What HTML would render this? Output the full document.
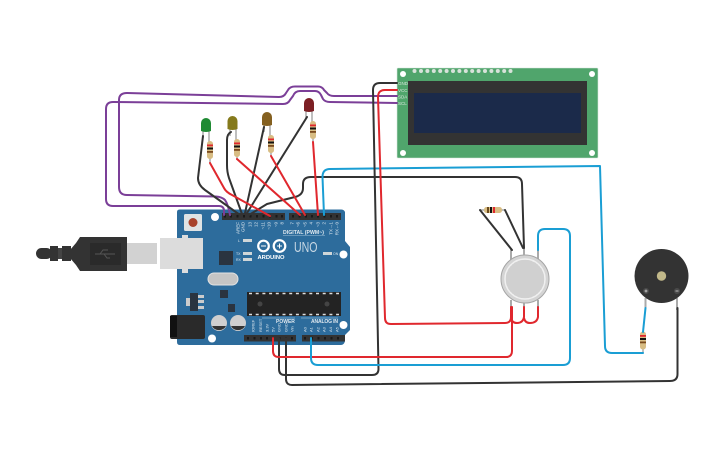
<!DOCTYPE html>
<html><head><meta charset="utf-8"><style>
html,body{margin:0;padding:0;background:#fff;width:725px;height:453px;overflow:hidden}
svg{display:block}
text{font-family:"Liberation Sans",sans-serif}
.w{fill:none;stroke-width:2;stroke-linecap:round;stroke-linejoin:round}
.k{stroke:#333}.r{stroke:#e0282e}.b{stroke:#1a9ed4}.p{stroke:#7b3f98}
.l{fill:none;stroke:#aaa;stroke-width:1.5}
.pl{fill:#dfe8ef;font-size:4.5px;text-anchor:end}
.pb{fill:#dfe8ef;font-size:4px}
</style></head><body>
<svg width="725" height="453" viewBox="0 0 725 453" xmlns="http://www.w3.org/2000/svg">
<defs>
<g id="rv"><rect x="-3" y="-9" width="6" height="18" rx="2.800" fill="#d8bd84"/><rect x="-3" y="-5.500" width="6" height="1.800" fill="#e0282e"/><rect x="-3" y="-2.500" width="6" height="2" fill="#111"/><rect x="-3" y="1" width="6" height="1.800" fill="#7a4a1e"/></g>
<pattern id="mesh" width="2" height="2" patternUnits="userSpaceOnUse"><rect width="2" height="2" fill="#d6d6d6"/><circle cx="1" cy="1" r=".5" fill="#b4b4b4"/></pattern>
</defs>
<!-- LCD -->
<rect x="397" y="68" width="201" height="90" rx="1" fill="#50a56c" stroke="#d5e6da" stroke-width=".6"/>
<rect x="408" y="81" width="179" height="64" fill="#333"/>
<rect x="414" y="93" width="167" height="40" fill="#1b2a4a"/>
<g fill="#fff"><circle cx="403" cy="74" r="3"/><circle cx="592" cy="74" r="3"/><circle cx="403" cy="153" r="3"/><circle cx="592" cy="153" r="3"/></g>
<g fill="#d8e2da"><circle cx="414.5" cy="71" r="2"/><circle cx="421" cy="71" r="2"/><circle cx="427.4" cy="71" r="2"/><circle cx="433.8" cy="71" r="2"/><circle cx="440.2" cy="71" r="2"/><circle cx="446.6" cy="71" r="2"/><circle cx="453" cy="71" r="2"/><circle cx="459.4" cy="71" r="2"/><circle cx="465.8" cy="71" r="2"/><circle cx="472.2" cy="71" r="2"/><circle cx="478.6" cy="71" r="2"/><circle cx="485" cy="71" r="2"/><circle cx="491.4" cy="71" r="2"/><circle cx="497.8" cy="71" r="2"/><circle cx="504.2" cy="71" r="2"/><circle cx="510.5" cy="71" r="2"/></g>
<g fill="#d8e6dc" font-size="4.500"><text x="398" y="85">GND</text><text x="398" y="92">VCC</text><text x="398" y="98.500">SDA</text><text x="398" y="105">SCL</text></g>
<!-- USB cable -->
<rect x="127" y="243" width="30" height="21" fill="#d2d2d2"/>
<rect x="36" y="248" width="16" height="11" rx="5.500" fill="#333"/>
<rect x="50" y="246" width="8" height="15" fill="#333"/><rect x="58" y="248" width="4" height="11" fill="#444"/><rect x="62" y="246" width="9" height="15" fill="#333"/>
<path d="M70 250L76 243L80 237H127V271H80L76 265L70 258Z" fill="#333"/>
<rect x="90" y="243" width="31" height="22" fill="#2a2a2a"/>
<path d="M95 254H115M100 254L103 250H108M104 254L107 258H110" stroke="#555" fill="none"/>
<!-- Arduino board -->
<path d="M180 209.500H341Q344 209.500 345 212L345 241L350 247V330L345 335V341Q344 345 341 345H180Q177 345 177 342V212Q177 209.500 180 209.500Z" fill="#2d6c9c"/>
<rect x="182" y="235" width="6" height="4" fill="#ddd"/><rect x="182" y="269" width="6" height="4" fill="#ddd"/>
<rect x="160" y="238" width="43" height="31" fill="#dcdcdc"/>
<rect x="184" y="214" width="18" height="17" rx="1.500" fill="#dfe3e4"/><circle cx="193" cy="222.500" r="4.500" fill="#a8432c"/>
<g fill="#fff"><circle cx="215" cy="217" r="4"/><circle cx="343.500" cy="254.500" r="4"/><circle cx="343.500" cy="325" r="4"/><circle cx="212" cy="338.500" r="4"/></g>
<rect x="222" y="213" width="63" height="7" fill="#333"/><rect x="289" y="213" width="52" height="7" fill="#333"/>
<rect x="244" y="335" width="52" height="6.500" fill="#333"/><rect x="302" y="335" width="43" height="6.500" fill="#333"/>
<g fill="#1a1a1a"><rect x="224" y="215" width="2" height="2.500"/><rect x="230" y="215" width="2" height="2.500"/><rect x="236.500" y="215" width="2" height="2.500"/><rect x="243" y="215" width="2" height="2.500"/><rect x="249.500" y="215" width="2" height="2.500"/><rect x="256" y="215" width="2" height="2.500"/><rect x="262.500" y="215" width="2" height="2.500"/><rect x="269" y="215" width="2" height="2.500"/><rect x="275.500" y="215" width="2" height="2.500"/><rect x="281" y="215" width="2" height="2.500"/><rect x="292" y="215" width="2" height="2.500"/><rect x="298.500" y="215" width="2" height="2.500"/><rect x="305" y="215" width="2" height="2.500"/><rect x="311" y="215" width="2" height="2.500"/><rect x="317" y="215" width="2" height="2.500"/><rect x="323.500" y="215" width="2" height="2.500"/><rect x="330" y="215" width="2" height="2.500"/><rect x="336" y="215" width="2" height="2.500"/>
<rect x="247" y="337" width="2" height="2.500"/><rect x="253.500" y="337" width="2" height="2.500"/><rect x="260" y="337" width="2" height="2.500"/><rect x="266" y="337" width="2" height="2.500"/><rect x="272" y="337" width="2" height="2.500"/><rect x="278.500" y="337" width="2" height="2.500"/><rect x="285" y="337" width="2" height="2.500"/><rect x="291" y="337" width="2" height="2.500"/><rect x="304" y="337" width="2" height="2.500"/><rect x="311" y="337" width="2" height="2.500"/><rect x="317.500" y="337" width="2" height="2.500"/><rect x="324" y="337" width="2" height="2.500"/><rect x="330.500" y="337" width="2" height="2.500"/><rect x="337" y="337" width="2" height="2.500"/></g>
<g class="pl"><text transform="translate(239.500,222) rotate(-90)">AREF</text><text transform="translate(244.500,222) rotate(-90)">GND</text><text transform="translate(251.500,222) rotate(-90)">13</text><text transform="translate(257.500,222) rotate(-90)">12</text><text transform="translate(264.500,222) rotate(-90)">~11</text><text transform="translate(270.500,222) rotate(-90)">~10</text><text transform="translate(277.500,222) rotate(-90)">~9</text><text transform="translate(283.500,222) rotate(-90)">8</text><text transform="translate(293.500,222) rotate(-90)">7</text><text transform="translate(299.500,222) rotate(-90)">~6</text><text transform="translate(306.500,222) rotate(-90)">~5</text><text transform="translate(312.500,222) rotate(-90)">4</text><text transform="translate(319.500,222) rotate(-90)">~3</text><text transform="translate(325.500,222) rotate(-90)">2</text><text transform="translate(332.500,222) rotate(-90)">TX→1</text><text transform="translate(338.500,222) rotate(-90)">RX←0</text></g>
<g class="pb"><text transform="translate(254.500,332) rotate(-90)">IOREF</text><text transform="translate(262,332) rotate(-90)">RESET</text><text transform="translate(268.500,332) rotate(-90)">3.3V</text><text transform="translate(274.500,332) rotate(-90)">5V</text><text transform="translate(280.500,332) rotate(-90)">GND</text><text transform="translate(287.500,332) rotate(-90)">GND</text><text transform="translate(293.500,332) rotate(-90)">Vin</text><text transform="translate(306.500,332) rotate(-90)">A0</text><text transform="translate(312.500,332) rotate(-90)">A1</text><text transform="translate(319.500,332) rotate(-90)">A2</text><text transform="translate(325.500,332) rotate(-90)">A3</text><text transform="translate(332,332) rotate(-90)">A4</text><text transform="translate(338.500,332) rotate(-90)">A5</text></g>
<text x="283" y="234" font-size="5.200" font-weight="bold" fill="#dfe8ef" textLength="41">DIGITAL (PWM~)</text>
<path d="M283 235.500H325" stroke="#9fc0d8" stroke-width=".5" fill="none"/>
<text x="276" y="323" font-size="5" font-weight="bold" fill="#dfe8ef">POWER</text>
<text x="311" y="323" font-size="5" font-weight="bold" fill="#dfe8ef" textLength="27">ANALOG IN</text>
<path d="M262 318H295M301 318H338" stroke="#bcd3e4" stroke-width=".6"/>
<circle cx="263.500" cy="246" r="5.300" fill="none" stroke="#fff" stroke-width="2.200"/><circle cx="279.500" cy="246" r="5.800" fill="none" stroke="#fff" stroke-width="2.200"/>
<path d="M261 246H266M277 246H282M279.500 243.500V248.500" stroke="#fff" stroke-width="1"/>
<text x="257.500" y="259" font-size="5.800" font-weight="bold" fill="#fff">ARDUINO</text>
<text x="294" y="252" font-size="15" fill="#c9d8e4" textLength="23.500" lengthAdjust="spacingAndGlyphs">UNO</text>
<rect x="243" y="239" width="9" height="3" fill="#cfd6d8"/><rect x="243" y="252" width="9" height="3" fill="#cfd6d8"/><rect x="243" y="258" width="9" height="3" fill="#cfd6d8"/>
<rect x="323" y="252" width="9" height="3" fill="#cfd6d8"/>
<g fill="#dfe8ef" font-size="3.500"><text x="238" y="242">L</text><text x="236" y="255">TX</text><text x="236" y="261">RX</text><text x="333" y="255">ON</text></g>
<rect x="219" y="251" width="14" height="14" fill="#2a3440"/>
<rect x="208" y="273" width="30" height="12" rx="6" fill="#c5c5c5" stroke="#e2e2e2"/>
<rect x="220" y="290" width="8" height="8" fill="#2a3440"/>
<rect x="190" y="293" width="8" height="18" fill="#2a3440"/><rect x="186" y="298" width="4" height="8" fill="#ccc"/><rect x="198" y="295" width="6" height="3" fill="#ccc"/><rect x="198" y="300" width="6" height="3" fill="#ccc"/><rect x="198" y="306" width="6" height="3" fill="#ccc"/>
<rect x="228" y="304" width="7" height="8" fill="#2a3440"/>
<rect x="247" y="292" width="94" height="24" fill="#232323"/>
<path d="M249 293.500H339M249 314.500H339" stroke="#ddd" stroke-width="1.500" stroke-dasharray="3 3.700"/>
<circle cx="260" cy="304" r="2.500" fill="#444"/><circle cx="327" cy="304" r="2.500" fill="#444"/>
<circle cx="219" cy="323" r="8" fill="#cfcfcf"/><path d="M212 326A8 8 0 0 0 226 326Z" fill="#333"/>
<circle cx="238" cy="323" r="8" fill="#cfcfcf"/><path d="M231 326A8 8 0 0 0 245 326Z" fill="#333"/>
<rect x="170" y="315" width="35" height="24" rx="2" fill="#2a2a2a"/><rect x="170" y="316" width="7" height="21" fill="#111"/>
<!-- LEDs -->
<g class="l"><path d="M203 131V138M209 131V142"/><path d="M230 129V136M236 129V140"/><path d="M264 125V132M270 125V136"/><path d="M306 111V118M312 111V122"/><path d="M210 158V163M237 156V160M271 152V156M313 138V142"/></g>
<path d="M201 131V123A5 5 0 0 1 211 123V131Q206 133 201 131Z" fill="#1f8a33"/>
<path d="M227.500 129V121A5 5 0 0 1 237.500 121V129Q232.500 131 227.500 129Z" fill="#857a1c"/>
<path d="M262 125V117A5 5 0 0 1 272 117V125Q267 127 262 125Z" fill="#846020"/>
<path d="M304 111V103A5 5 0 0 1 314 103V111Q309 113 304 111Z" fill="#7c1f24"/>
<use href="#rv" x="210" y="150"/><use href="#rv" x="237" y="148"/><use href="#rv" x="271" y="144"/><use href="#rv" x="313" y="130"/>
<!-- Sensor -->
<g stroke="#aaa" stroke-width="2"><path d="M511 248V260M524 248V260M538 250V260M511 300V310M524 300V310M538 300V310"/></g>
<circle cx="525" cy="279" r="24" fill="#d4d4d4" stroke="#a5a5a5"/>
<circle cx="525" cy="279" r="20" fill="url(#mesh)" stroke="#f0f0f0" stroke-width="1.500"/>
<!-- sensor resistor -->
<path d="M480 210H505" class="l"/>
<rect x="484" y="207" width="18" height="6" rx="2.500" fill="#d8bd84"/><rect x="487" y="207" width="2" height="6" fill="#6b4a1e"/><rect x="490" y="207" width="2" height="6" fill="#111"/><rect x="493" y="207" width="2" height="6" fill="#e0282e"/>
<!-- Buzzer -->
<path d="M645.500 298V308M677 298V310" stroke="#aaa" stroke-width="2"/>
<circle cx="661.500" cy="276" r="27" fill="#333"/>
<circle cx="661.500" cy="276" r="4.700" fill="#c2b98a"/>
<circle cx="646" cy="291" r="3" fill="#4a4a4a"/><circle cx="677" cy="291" r="3" fill="#4a4a4a"/>
<path d="M644.500 291H647.500M646 289.500V292.500M675.500 291H678.500" stroke="#ddd" stroke-width=".7"/>
<path d="M643 349V353" class="l"/>
<use href="#rv" x="643" y="340.500"/>
<!-- Wires -->
<g class="w">
<path class="p" d="M224 215V211Q224 206 219 206L113 206Q106 206 106 199V109Q106 102 113 102L283 104Q288 104 290 100L293 96Q295 91 300 91H315Q319 91 321 95L323 99Q325 102 330 102L397 103"/>
<path class="p" d="M230 215Q228 204 225 200Q222 197 216 196.500L127 195Q119 195 119 187V100Q119 93 127 93L279 97Q284 97 286 93L288 90Q290 86.500 295 86.500H318Q322 86.500 324 90L327 93Q329 96 334 96L397 96"/>
<path class="k" d="M240 215L205 190Q198 185 198 178L203 136"/>
<path class="k" d="M242 214L229 178Q227 172 227 165V140Q227 134 231 132"/>
<path class="k" d="M245 213L264 127"/>
<path class="k" d="M247 213L307 117"/>
<path class="k" d="M249 215L267 204L295 197Q303 195 303 188V184Q303 177 311 177L515 177Q522 177 522 184L524 248"/>
<path class="k" d="M480 210L512 250M505 210L523 248"/>
<path class="r" d="M210 163L224 188Q226 192 232 195L270 216"/>
<path class="r" d="M237 159L300 215"/>
<path class="r" d="M271 156L305 215"/>
<path class="r" d="M313 142L318 215"/>
<path class="b" d="M324 215L322.500 177Q322.500 169 330 169L600 166L605 346Q605 353 612 353H643"/>
<path class="b" d="M643 332L645.500 308"/>
<path class="k" d="M677.500 308V374Q677.500 381 670 381L292 385Q286 385 286 379V338"/>
<path class="k" d="M279 338V369Q279 375 285 375H372Q378.500 375 378.500 369L373 90Q373 83 380 83H397"/>
<path class="r" d="M273 338V351Q273 357 279 357H506Q512 357 512 351V307"/>
<path class="r" d="M378 97Q378 90 385 90H397M378 97L385 318Q385 324 391 324L505 323Q511 323 511 317V307"/>
<path class="r" d="M511 318Q512 323 517 323Q523 323 524 317V307M524 318Q525 323 530 323Q537 323 538 317V307"/>
<path class="b" d="M311 338V358Q311 365 318 365H563Q570 365 570 358V236Q570 229 563 229H545Q538 229 538 236V250"/>
</g>
</svg>
</body></html>
